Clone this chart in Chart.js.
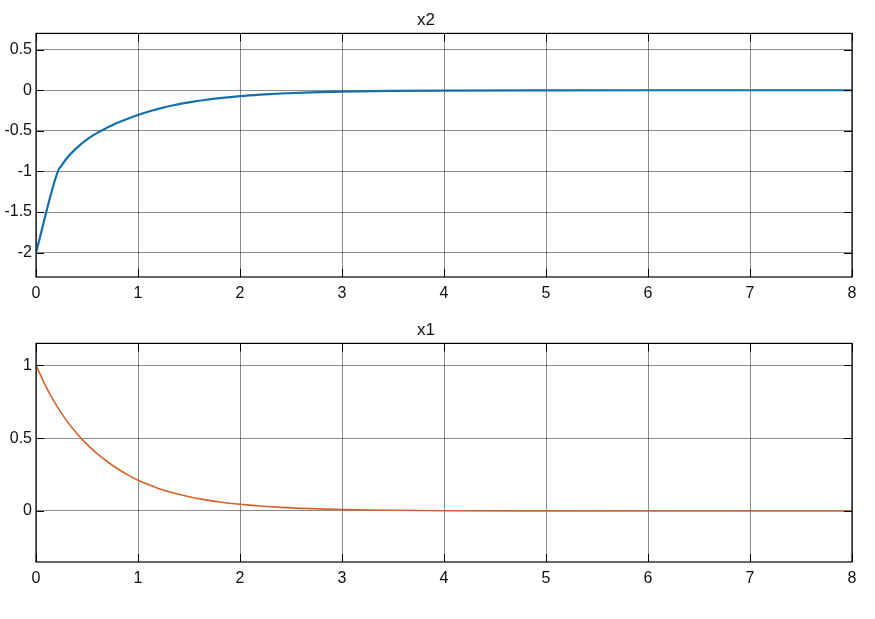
<!DOCTYPE html>
<html>
<head>
<meta charset="utf-8">
<script src="https://cdn.jsdelivr.net/npm/chart.js@4.4.1/dist/chart.umd.min.js"></script>
<style>
  body { margin: 0; background: #fff; }
  .box { position: absolute; left: 0; width: 875px; }
</style>
</head>
<body>
<div class="box" style="top:0;height:310px"><canvas id="chartX2"></canvas></div>
<div class="box" style="top:310px;height:309px"><canvas id="chartX1"></canvas></div>
<script>
// time samples and values
const tX2 = [0, 0.22, 0.24, 0.3, 0.4, 0.5, 0.6, 0.7, 0.8, 0.9, 1.0, 1.1, 1.2, 1.35, 1.5, 1.65, 1.8, 2.0, 2.2, 2.4, 2.7, 3.0, 3.5, 4, 5, 6, 7, 8];
const x2Values = [-2, -0.98, -0.945, -0.84, -0.71, -0.605, -0.525, -0.46, -0.40, -0.35, -0.305, -0.265, -0.23, -0.185, -0.15, -0.12, -0.097, -0.072, -0.054, -0.04, -0.026, -0.016, -0.008, -0.004, -0.001, 0, 0, 0];

const tX1 = [0, 0.1, 0.2, 0.3, 0.4, 0.5, 0.6, 0.7, 0.8, 0.9, 1.0, 1.1, 1.2, 1.35, 1.5, 1.65, 1.8, 2.0, 2.2, 2.4, 2.7, 3.0, 3.5, 4, 5, 6, 7, 8];
const x1Values = [1, 0.85, 0.725, 0.62, 0.532, 0.457, 0.393, 0.338, 0.29, 0.248, 0.211, 0.181, 0.155, 0.123, 0.098, 0.078, 0.062, 0.046, 0.034, 0.025, 0.016, 0.01, 0.005, 0.002, 0.0005, 0, 0, 0];

const xTicks = [0, 1, 2, 3, 4, 5, 6, 7, 8];
const yTicksX2 = [-2, -1.5, -1, -0.5, 0, 0.5];
const yTicksX1 = [0, 0.5, 1];

const FONT = '"Liberation Sans", Arial, sans-serif';

// black frame plus short inward tick marks, MATLAB style
const frameTicks = {
    id: 'frameTicks',
    afterDraw(chart) {
        const { ctx, chartArea: a, scales } = chart;
        const len = 8;
        ctx.save();
        ctx.strokeStyle = '#000';
        ctx.lineWidth = 1;
        ctx.beginPath();
        scales.x.ticks.forEach(t => {
            const px = Math.round(scales.x.getPixelForValue(t.value)) + 0.5;
            ctx.moveTo(px, a.bottom); ctx.lineTo(px, a.bottom - len);
            ctx.moveTo(px, a.top); ctx.lineTo(px, a.top + len);
        });
        scales.y.ticks.forEach(t => {
            const py = Math.round(scales.y.getPixelForValue(t.value)) + 0.5;
            ctx.moveTo(a.left, py); ctx.lineTo(a.left + len, py);
            ctx.moveTo(a.right, py); ctx.lineTo(a.right - len, py);
        });
        ctx.stroke();
        ctx.lineWidth = 1.2;
        ctx.strokeRect(a.left, a.top, a.right - a.left, a.bottom - a.top);
        ctx.restore();
    }
};

function makeChart(id, title, xs, ys, color, width, yMin, yMax, yTicks, xAxisHeight) {
    const points = xs.map((x, i) => ({ x: x, y: ys[i] }));
    return new Chart(document.getElementById(id), {
        type: 'line',
        data: {
            datasets: [{
                data: points,
                borderColor: color,
                borderWidth: width,
                pointRadius: 0,
                cubicInterpolationMode: 'monotone',
                fill: false
            }]
        },
        options: {
            responsive: true,
            maintainAspectRatio: false,
            animation: false,
            layout: { padding: { left: 0, right: 23, top: 0, bottom: 0 } },
            plugins: {
                legend: { display: false },
                tooltip: { enabled: false },
                title: {
                    display: true,
                    text: title,
                    color: '#111',
                    font: { family: FONT, size: 17, weight: 'normal' },
                    padding: { top: 10, bottom: 3 }
                }
            },
            scales: {
                x: {
                    type: 'linear',
                    min: 0,
                    max: 8,
                    afterBuildTicks: axis => { axis.ticks = xTicks.map(v => ({ value: v })); },
                    afterFit: axis => { axis.height = xAxisHeight; },
                    grid: { color: 'rgba(0,0,0,0.45)', drawTicks: false },
                    border: { display: false },
                    ticks: { color: '#111', padding: 7, font: { family: FONT, size: 16 }, callback: v => String(v) }
                },
                y: {
                    min: yMin,
                    max: yMax,
                    afterBuildTicks: axis => { axis.ticks = yTicks.map(v => ({ value: v })); },
                    afterFit: axis => { axis.width = 36; },
                    grid: { color: 'rgba(0,0,0,0.45)', drawTicks: false },
                    border: { display: false },
                    ticks: { color: '#111', padding: 4, font: { family: FONT, size: 16 }, callback: v => String(v) }
                }
            }
        },
        plugins: [frameTicks]
    });
}

makeChart('chartX2', 'x2', tX2, x2Values, '#1470ab', 2.2, -2.3, 0.7, yTicksX2, 33);
makeChart('chartX1', 'x1', tX1, x1Values, '#d4622a', 1.6, -0.35, 1.15, yTicksX1, 57);
</script>
</body>
</html>
